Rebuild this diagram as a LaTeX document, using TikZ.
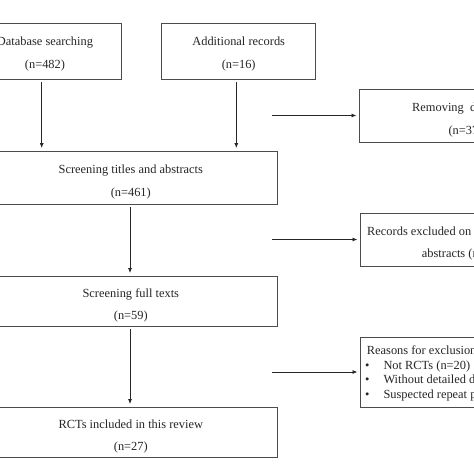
\documentclass[tikz,border=0pt]{standalone}
\usepackage{fontspec}
\setmainfont{Liberation Serif}
\usetikzlibrary{arrows.meta,calc}
\begin{document}
\begin{tikzpicture}[x=1pt,y=-1pt,
  box/.style={draw=black!70, line width=0.9pt, inner sep=0pt},
  txt/.style={anchor=base, inner sep=0pt, text=black!85, font=\fontsize{12.4pt}{15pt}\selectfont},
  txtw/.style={txt, anchor=base west},
  arr/.style={-{Latex[length=5pt,width=4pt]}, line width=0.8pt, draw=black!85, shorten <=2.5pt, shorten >=2.5pt}]
\useasboundingbox (0,0) rectangle (474,474);
\clip (0,0) rectangle (474,474);
\fill[white] (0,0) rectangle (474,474);
% left column boxes
\node[box, minimum width=154pt, minimum height=56pt] (db) at (44,51) {};
\node[box, minimum width=154pt, minimum height=56pt] (add) at (238.7,51) {};
\node[box, minimum width=294pt, minimum height=53pt] (scr) at (130.8,177.5) {};
\node[box, minimum width=294pt, minimum height=50pt] (full) at (130.8,301) {};
\node[box, minimum width=294pt, minimum height=50pt] (rcts) at (130.8,432) {};
% left column texts
\node[txt] (db1) at ($(db.north)+(1,23)$) {Database searching};
\node[txt] (db2) at ($(db.north)+(1,45.5)$) {(n=482)};
\node[txt] (add1) at ($(add.north)+(0,23)$) {Additional records};
\node[txt] (add2) at ($(add.north)+(0,45.5)$) {(n=16)};
\node[txt] (scr1) at ($(scr.north)+(0,23)$) {Screening titles and abstracts};
\node[txt] (scr2) at ($(scr.north)+(0,45.5)$) {(n=461)};
\node[txt] (full1) at ($(full.north)+(0,22)$) {Screening full texts};
\node[txt] (full2) at ($(full.north)+(0,44)$) {(n=59)};
\node[txt] (rcts1) at ($(rcts.north)+(0,22)$) {RCTs included in this review};
\node[txt] (rcts2) at ($(rcts.north)+(0,44)$) {(n=27)};
% right column boxes
\node[box, minimum width=220pt, minimum height=53pt, anchor=west] (rem) at (359,115.5) {};
\node[box, minimum width=220pt, minimum height=53pt, anchor=west] (rec) at (360,239.5) {};
\node[box, minimum width=230pt, minimum height=70pt, anchor=west] (rea) at (360,372) {};
% right column texts
\node[txtw] (rem1) at (412,111.7) {Removing~~duplicates};
\node[txtw] (rem2) at (448.3,134.3) {(n=37)};
\node[txtw] (rec1) at (367,235.7) {Records excluded on reading titles and};
\node[txtw] (rec2) at (421.7,257.3) {abstracts (n=402)};
\node[txtw] (rea0) at (366.7,354) {Reasons for exclusion (n=32)};
\node[txt] (b1) at (367.3,369) {\textbullet};
\node[txt] (b2) at (367.3,383.7) {\textbullet};
\node[txt] (b3) at (367.3,398.4) {\textbullet};
\node[txtw] (rea1) at (383.3,369) {Not RCTs (n=20)};
\node[txtw] (rea2) at (383.3,383.7) {Without detailed data (n=8)};
\node[txtw] (rea3) at (383.3,398.4) {Suspected repeat publication (n=4)};
% vertical arrows
\draw[arr] ([xshift=-2.3pt]db.south) -- ([xshift=-2.3pt]db.south |- scr.north);
\draw[arr] ([xshift=-2.4pt]add.south) -- ([xshift=-2.4pt]add.south |- scr.north);
\draw[arr] ([xshift=-0.8pt]scr.south) -- ([xshift=-0.8pt]full.north);
\draw[arr] ([xshift=-0.8pt]full.south) -- ([xshift=-0.8pt]rcts.north);
% side arrows
\coordinate (h1) at (272,115.5);
\coordinate (h2) at (272,239.5);
\coordinate (h3) at (272,372);
\draw[arr, shorten <=0pt] (h1) -- (rem.west);
\draw[arr, shorten <=0pt] (h2) -- (rec.west);
\draw[arr, shorten <=0pt] (h3) -- (rea.west);
\end{tikzpicture}
\end{document}
